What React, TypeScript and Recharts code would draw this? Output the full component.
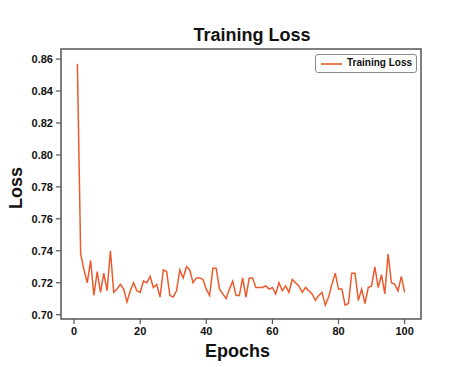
import React from "react";
import { LineChart, Line, XAxis, YAxis, ReferenceArea } from "recharts";

// ── Data ───────────────────────────────────────────────────────────────────
const lossValues = [
  0.857, 0.738, 0.728, 0.720, 0.734, 0.712, 0.727, 0.714, 0.726, 0.715,
  0.740, 0.714, 0.716, 0.719, 0.716, 0.708, 0.715, 0.720, 0.715, 0.714,
  0.721, 0.720, 0.724, 0.717, 0.719, 0.711, 0.728, 0.727, 0.712, 0.711,
  0.715, 0.728, 0.723, 0.730, 0.728, 0.720, 0.723, 0.723, 0.722, 0.716,
  0.712, 0.729, 0.729, 0.716, 0.713, 0.710, 0.716, 0.721, 0.712, 0.712,
  0.723, 0.711, 0.723, 0.723, 0.717, 0.717, 0.717, 0.718, 0.716, 0.717,
  0.713, 0.720, 0.715, 0.718, 0.714, 0.722, 0.720, 0.718, 0.714, 0.717,
  0.715, 0.713, 0.709, 0.712, 0.714, 0.706, 0.711, 0.719, 0.726, 0.716,
  0.716, 0.706, 0.707, 0.726, 0.726, 0.709, 0.716, 0.707, 0.717, 0.718,
  0.730, 0.717, 0.725, 0.713, 0.738, 0.720, 0.719, 0.715, 0.724, 0.714,
];

const xTicks = [0, 20, 40, 60, 80, 100];
const yTicks = [0.70, 0.72, 0.74, 0.76, 0.78, 0.80, 0.82, 0.84, 0.86];

const data = lossValues.map((loss, i) => ({ epoch: i + 1, loss }));

// ── Style tokens ───────────────────────────────────────────────────────────
const FONT = "'Liberation Sans', Arial, sans-serif";
const LINE = "#e95b2c";
const FRAME = "#555555";
const X_DOMAIN: [number, number] = [-3.95, 104.95];
const Y_DOMAIN: [number, number] = [0.6973, 0.8663];

const tickStyle = { fontSize: 11, fontWeight: "bold", fill: "#111", fontFamily: FONT };

const labelStyle: React.CSSProperties = {
  position: "absolute",
  fontFamily: FONT,
  fontWeight: "bold",
  fontSize: 18,
  lineHeight: "18px",
  color: "#111",
  whiteSpace: "nowrap",
};

export default function App() {
  return (
    <div style={{ position: "absolute", left: 0, top: 0, width: 474, height: 367, background: "#fff" }}>
      <LineChart
        width={474}
        height={367}
        data={data}
        margin={{ top: 49, right: 53, left: 0, bottom: 0 }}
      >
        <XAxis
          dataKey="epoch"
          type="number"
          domain={X_DOMAIN}
          ticks={xTicks}
          allowDataOverflow
          height={48}
          axisLine={false}
          tickLine={{ stroke: FRAME, strokeWidth: 1.2 }}
          tickSize={5}
          tickMargin={3}
          tick={tickStyle}
        />
        <YAxis
          type="number"
          domain={Y_DOMAIN}
          ticks={yTicks}
          allowDataOverflow
          width={61}
          axisLine={false}
          tickLine={{ stroke: FRAME, strokeWidth: 1.2 }}
          tickSize={5}
          tickMargin={3}
          tick={tickStyle}
          tickFormatter={(v: number) => v.toFixed(2)}
        />
        <ReferenceArea
          x1={X_DOMAIN[0]}
          x2={X_DOMAIN[1]}
          y1={Y_DOMAIN[0]}
          y2={Y_DOMAIN[1]}
          fill="none"
          stroke={FRAME}
          strokeWidth={1.5}
          ifOverflow="visible"
        />
        <Line
          type="linear"
          dataKey="loss"
          stroke={LINE}
          strokeWidth={1.5}
          dot={false}
          isAnimationActive={false}
        />
      </LineChart>

      {/* Title */}
      <div style={{ ...labelStyle, left: 152, width: 200, top: 26, textAlign: "center" }}>
        Training Loss
      </div>

      {/* X label */}
      <div style={{ ...labelStyle, left: 137.5, width: 200, top: 342, textAlign: "center" }}>
        Epochs
      </div>

      {/* Y label */}
      <div
        style={{
          ...labelStyle,
          left: 15.5,
          top: 188,
          transform: "translate(-50%, -50%) rotate(-90deg)",
        }}
      >
        Loss
      </div>

      {/* Legend */}
      <div
        style={{
          position: "absolute",
          left: 315,
          top: 54,
          width: 100,
          height: 17,
          border: "1px solid #8a8a8a",
          borderRadius: 3,
          background: "#fff",
          fontFamily: FONT,
          fontWeight: "bold",
          fontSize: 10,
          color: "#111",
        }}
      >
        <div style={{ position: "absolute", left: 5, top: 8, width: 21, height: 2, background: "#ec7b5a" }} />
        <div style={{ position: "absolute", left: 31, top: 3, lineHeight: "10px" }}>Training Loss</div>
      </div>
    </div>
  );
}
